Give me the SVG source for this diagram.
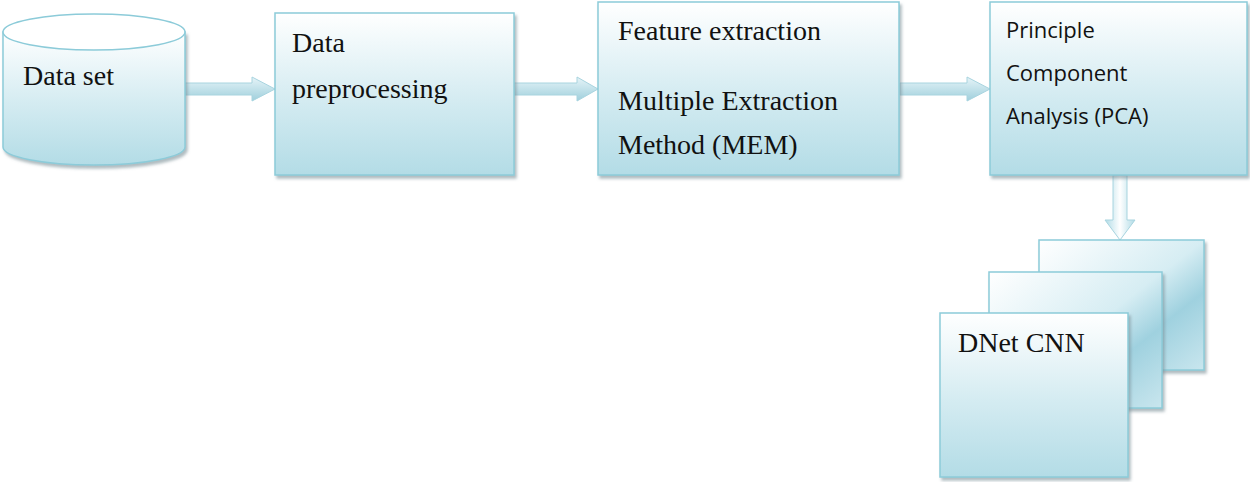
<svg xmlns="http://www.w3.org/2000/svg" width="1250" height="482" viewBox="0 0 1250 482">
<defs>
<linearGradient id="g" x1="0" y1="0" x2="0" y2="1"><stop offset="0" stop-color="#ffffff"/><stop offset="0.55" stop-color="#d3ebf1"/><stop offset="1" stop-color="#b3dce6"/></linearGradient>
<linearGradient id="gd" x1="0" y1="0" x2="1" y2="1"><stop offset="0" stop-color="#ffffff"/><stop offset="0.5" stop-color="#d6edf3"/><stop offset="0.7" stop-color="#9fd1df"/><stop offset="1" stop-color="#c9e6ee"/></linearGradient>
<linearGradient id="ga" x1="0" y1="0" x2="0" y2="1"><stop offset="0" stop-color="#e6f4f8"/><stop offset="1" stop-color="#9fcfdc"/></linearGradient>
<linearGradient id="gv" x1="0" y1="0" x2="1" y2="0"><stop offset="0" stop-color="#b0dbe6"/><stop offset="0.5" stop-color="#ffffff"/><stop offset="1" stop-color="#b0dbe6"/></linearGradient>
<filter id="sh" x="-5%" y="-5%" width="115%" height="115%"><feDropShadow dx="2" dy="3" stdDeviation="1.5" flood-color="#7a8f96" flood-opacity="0.6"/></filter>
</defs>
<style>
.n{fill:url(#g);stroke:#8ccbd9;stroke-width:1.5;filter:url(#sh)}
.d{fill:url(#gd);stroke:#8ccbd9;stroke-width:1.5;filter:url(#sh)}
.t{font-family:'Liberation Serif','DejaVu Serif','Times New Roman',serif;font-size:28px;fill:#111}
.s{font-family:'Open Sans','Noto Sans',sans-serif;font-size:22px;fill:#111}
.a{fill:url(#ga);stroke:#a8d4df;stroke-width:1}
</style>
<g id="connectors">
<path class="a" d="M185,83 H252 V77 L275,89 L252,101 V95 H185 Z"/>
<path class="a" d="M514,83 H577 V77 L598,89 L577,101 V95 H514 Z"/>
<path class="a" d="M900,83 H967 V77 L990,89 L967,101 V95 H900 Z"/>
<path d="M1113,175 H1127 V220 H1135 L1120,240 L1105,220 H1113 Z" fill="url(#gv)" stroke="#a8d4df"/>
</g>
<g id="dataset">
<path class="n" d="M3,32 V147 A91,18 0 0 0 185,147 V32 Z"/>
<ellipse cx="94" cy="32" rx="91" ry="18" fill="#fff" stroke="#8ccbd9" stroke-width="1.5"/>
<text class="t" x="23" y="85">Data set</text>
</g>
<g id="preprocessing">
<rect class="n" x="275" y="13" width="239" height="162"/>
<text class="t" x="292" y="52">Data</text>
<text class="t" x="292" y="98">preprocessing</text>
</g>
<g id="feature">
<rect class="n" x="598" y="2" width="301" height="173"/>
<text class="t" x="618" y="40">Feature extraction</text>
<text class="t" x="618" y="110">Multiple Extraction</text>
<text class="t" x="618" y="154">Method (MEM)</text>
</g>
<g id="pca">
<rect class="n" x="990" y="2" width="257" height="173"/>
<text class="s" x="1006" y="38">Principle</text>
<text class="s" x="1006" y="81">Component</text>
<text class="s" x="1006" y="124">Analysis (PCA)</text>
</g>
<g id="cnn">
<rect class="d" x="1039" y="240" width="165" height="130"/>
<rect class="d" x="989" y="272" width="173" height="136"/>
<rect class="n" x="940" y="313" width="188" height="164"/>
<text class="t" x="958" y="352">DNet CNN</text>
</g>
</svg>
